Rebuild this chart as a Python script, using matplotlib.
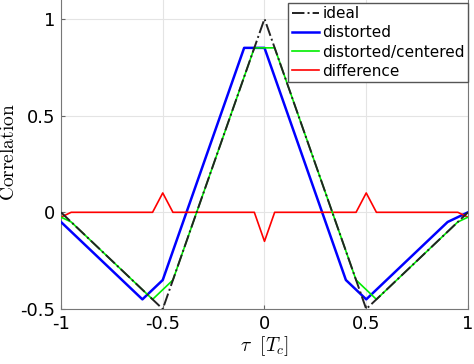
import matplotlib
matplotlib.use('Agg')
import matplotlib.pyplot as plt

# correlation curves (tau in chips)
tau_ideal = [-1, -0.5, 0, 0.5, 1]
corr_ideal = [0, -0.5, 1, -0.5, 0]

tau_dist = [-1, -0.6, -0.5, -0.1, 0, 0.4, 0.5, 0.9, 1]
corr_dist = [-0.05, -0.45, -0.35, 0.85, 0.85, -0.35, -0.45, -0.05, 0]

tau_cent = [-1, -0.95, -0.55, -0.45, -0.05, 0.05, 0.45, 0.55, 0.95, 1]
corr_cent = [-0.025, -0.05, -0.45, -0.35, 0.85, 0.85, -0.35, -0.45, -0.05, -0.025]

tau_diff = [-1, -0.95, -0.55, -0.5, -0.45, -0.05, 0, 0.05, 0.45, 0.5, 0.55, 0.95, 1]
corr_diff = [-0.025, 0, 0, 0.1, 0, 0, -0.15, 0, 0, 0.1, 0, 0, -0.025]

xticks = [-1, -0.5, 0, 0.5, 1]
yticks = [-0.5, 0, 0.5, 1]

plt.rcParams['mathtext.fontset'] = 'cm'
plt.rcParams['axes.unicode_minus'] = False

fig = plt.figure(figsize=(4.74, 3.64), dpi=100)
ax = fig.add_axes([0.1287, 0.151, 0.8586, 0.861])

ax.plot(tau_ideal, corr_ideal, color='#222222', ls='-.', lw=1.4, label='ideal', zorder=5)
ax.plot(tau_dist, corr_dist, color='#0000ff', lw=1.8, label='distorted', zorder=3)
ax.plot(tau_cent, corr_cent, color='#00ee00', lw=1.2, label='distorted/centered', zorder=4)
ax.plot(tau_diff, corr_diff, color='#ff0000', lw=1.2, label='difference', zorder=3)

ax.set_xlim(-1, 1)
ax.set_ylim(-0.5, 1.12)
ax.set_xticks(xticks)
ax.set_xticklabels(['-1', '-0.5', '0', '0.5', '1'])
ax.set_yticks(yticks)
ax.set_yticklabels(['-0.5', '0', '0.5', '1'])
ax.tick_params(labelsize=13, direction='in', length=3, color='#666666', pad=4)
ax.grid(True, color='#e4e4e4', lw=0.8)
ax.set_axisbelow(True)
for s in ax.spines.values():
    s.set_color('#777777')
ax.spines['top'].set_visible(False)

ax.set_xlabel(r'$\tau\ \ [T_c]$', fontsize=14, labelpad=1)
ax.set_ylabel(r'$\mathrm{Correlation}$', fontsize=14, labelpad=2)

leg = ax.legend(loc='upper right', bbox_to_anchor=(468 / 474, 1 - 3 / 364),
                bbox_transform=fig.transFigure, fontsize=11, handlelength=1.8,
                handletextpad=0.2, labelspacing=0.27, borderpad=0.22,
                borderaxespad=0, fancybox=False, framealpha=1)
leg.get_frame().set_edgecolor('#555555')
leg.get_frame().set_linewidth(1.0)

plt.savefig('out.png', dpi=100)
